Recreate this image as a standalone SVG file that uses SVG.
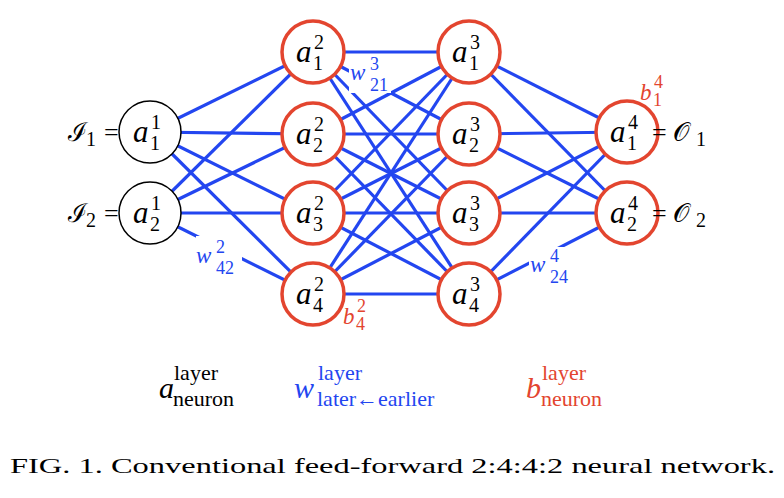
<svg xmlns="http://www.w3.org/2000/svg" width="784" height="498" viewBox="0 0 784 498">
<style>
text{font-family:"Liberation Serif","DejaVu Serif",serif;}
.it{font-style:italic;}
.n{font-size:31px;font-style:italic;}
.s{font-size:20px;}
.w{font-size:23px;font-style:italic;}
.ws{font-size:18px;}
.c line{stroke:#2346f0;stroke-width:3.2;}
.in{fill:#fff;stroke:#000;stroke-width:1.5;}
.hid{fill:#fff;stroke:#e3452f;stroke-width:3.5;}
.blue{fill:#2346f0;}
.red{fill:#e3452f;}
</style>
<g id="connectors" class="c">
<line x1="150" y1="132" x2="313" y2="52"/><line x1="150" y1="132" x2="313" y2="134"/><line x1="150" y1="132" x2="313" y2="213"/><line x1="150" y1="132" x2="313" y2="294"/>
<line x1="150" y1="213" x2="313" y2="52"/><line x1="150" y1="213" x2="313" y2="134"/><line x1="150" y1="213" x2="313" y2="213"/><line x1="150" y1="213" x2="313" y2="294"/>
<line x1="313" y1="52" x2="469" y2="52"/><line x1="313" y1="52" x2="469" y2="134"/><line x1="313" y1="52" x2="469" y2="213"/><line x1="313" y1="52" x2="469" y2="294"/>
<line x1="313" y1="134" x2="469" y2="52"/><line x1="313" y1="134" x2="469" y2="134"/><line x1="313" y1="134" x2="469" y2="213"/><line x1="313" y1="134" x2="469" y2="294"/>
<line x1="313" y1="213" x2="469" y2="52"/><line x1="313" y1="213" x2="469" y2="134"/><line x1="313" y1="213" x2="469" y2="213"/><line x1="313" y1="213" x2="469" y2="294"/>
<line x1="313" y1="294" x2="469" y2="52"/><line x1="313" y1="294" x2="469" y2="134"/><line x1="313" y1="294" x2="469" y2="213"/><line x1="313" y1="294" x2="469" y2="294"/>
<line x1="469" y1="52" x2="627" y2="132"/><line x1="469" y1="52" x2="627" y2="213"/>
<line x1="469" y1="134" x2="627" y2="132"/><line x1="469" y1="134" x2="627" y2="213"/>
<line x1="469" y1="213" x2="627" y2="132"/><line x1="469" y1="213" x2="627" y2="213"/>
<line x1="469" y1="294" x2="627" y2="132"/><line x1="469" y1="294" x2="627" y2="213"/>
</g>
<g id="wlabels">
<rect x="196" y="236" width="46" height="38" fill="#fff"/>
<text x="196" y="263" class="w blue">w</text><text x="216" y="253" class="ws blue">2</text><text x="216" y="274" class="ws blue">42</text>
<rect x="349" y="57" width="42" height="36" fill="#fff"/>
<text x="350" y="80" class="w blue">w</text><text x="370" y="70" class="ws blue">3</text><text x="370" y="91" class="ws blue">21</text>
<rect x="529" y="247" width="46" height="36" fill="#fff"/>
<text x="530" y="272" class="w blue">w</text><text x="550" y="262" class="ws blue">4</text><text x="550" y="283" class="ws blue">24</text>
</g>
<g id="n11"><circle class="in" cx="150" cy="132" r="31"/><text x="133" y="142" class="n">a</text><text x="151" y="129" class="s">1</text><text x="150" y="150" class="s">1</text></g>
<g id="n12"><circle class="in" cx="150" cy="213" r="31"/><text x="133" y="223" class="n">a</text><text x="151" y="210" class="s">1</text><text x="150" y="231" class="s">2</text></g>
<g id="in1"><text x="68" y="141" font-size="26">ℐ</text><text x="86" y="146" class="s">1</text><text x="104" y="141" font-size="26">=</text></g>
<g id="in2"><text x="68" y="222" font-size="26">ℐ</text><text x="86" y="227" class="s">2</text><text x="104" y="222" font-size="26">=</text></g>
<g id="n21"><circle class="hid" cx="313" cy="52" r="31"/><text x="296" y="62" class="n">a</text><text x="314" y="49" class="s">2</text><text x="313" y="70" class="s">1</text></g>
<g id="n22"><circle class="hid" cx="313" cy="134" r="31"/><text x="296" y="144" class="n">a</text><text x="314" y="131" class="s">2</text><text x="313" y="152" class="s">2</text></g>
<g id="n23"><circle class="hid" cx="313" cy="213" r="31"/><text x="296" y="223" class="n">a</text><text x="314" y="210" class="s">2</text><text x="313" y="231" class="s">3</text></g>
<g id="n24"><circle class="hid" cx="313" cy="294" r="31"/><text x="296" y="304" class="n">a</text><text x="314" y="291" class="s">2</text><text x="313" y="312" class="s">4</text></g>
<g id="n31"><circle class="hid" cx="469" cy="52" r="31"/><text x="452" y="62" class="n">a</text><text x="470" y="49" class="s">3</text><text x="469" y="70" class="s">1</text></g>
<g id="n32"><circle class="hid" cx="469" cy="134" r="31"/><text x="452" y="144" class="n">a</text><text x="470" y="131" class="s">3</text><text x="469" y="152" class="s">2</text></g>
<g id="n33"><circle class="hid" cx="469" cy="213" r="31"/><text x="452" y="223" class="n">a</text><text x="470" y="210" class="s">3</text><text x="469" y="231" class="s">3</text></g>
<g id="n34"><circle class="hid" cx="469" cy="294" r="31"/><text x="452" y="304" class="n">a</text><text x="470" y="291" class="s">3</text><text x="469" y="312" class="s">4</text></g>
<g id="n41"><circle class="hid" cx="627" cy="132" r="31"/><text x="610" y="142" class="n">a</text><text x="628" y="129" class="s">4</text><text x="627" y="150" class="s">1</text></g>
<g id="n42"><circle class="hid" cx="627" cy="213" r="31"/><text x="610" y="223" class="n">a</text><text x="628" y="210" class="s">4</text><text x="627" y="231" class="s">2</text></g>
<g id="out1"><text x="652" y="141" font-size="26">= 𝒪</text><text x="696" y="146" class="s">1</text></g>
<g id="out2"><text x="652" y="222" font-size="26">= 𝒪</text><text x="696" y="227" class="s">2</text></g>
<g id="b14"><text x="640" y="100" class="w red">b</text><text x="654" y="88" class="ws red">4</text><text x="653" y="106" class="ws red">1</text></g>
<g id="b24"><text x="343" y="324" class="w red">b</text><text x="357" y="312" class="ws red">2</text><text x="356" y="330" class="ws red">4</text></g>
<g id="legend">
<text x="159" y="398" class="it" font-size="30">a</text><text x="174" y="380" font-size="22">layer</text><text x="173" y="406" font-size="22">neuron</text>
<text x="294" y="398" class="it blue" font-size="30">w</text><text x="318" y="380" class="blue" font-size="22">layer</text><text x="317" y="406" class="blue" font-size="22">later←earlier</text>
<text x="526" y="398" class="it red" font-size="30">b</text><text x="542" y="380" class="red" font-size="22">layer</text><text x="541" y="406" class="red" font-size="22">neuron</text>
</g>
<text x="10" y="473" font-size="22" textLength="765" lengthAdjust="spacingAndGlyphs">FIG. 1. Conventional feed-forward 2:4:4:2 neural network.</text>
</svg>
